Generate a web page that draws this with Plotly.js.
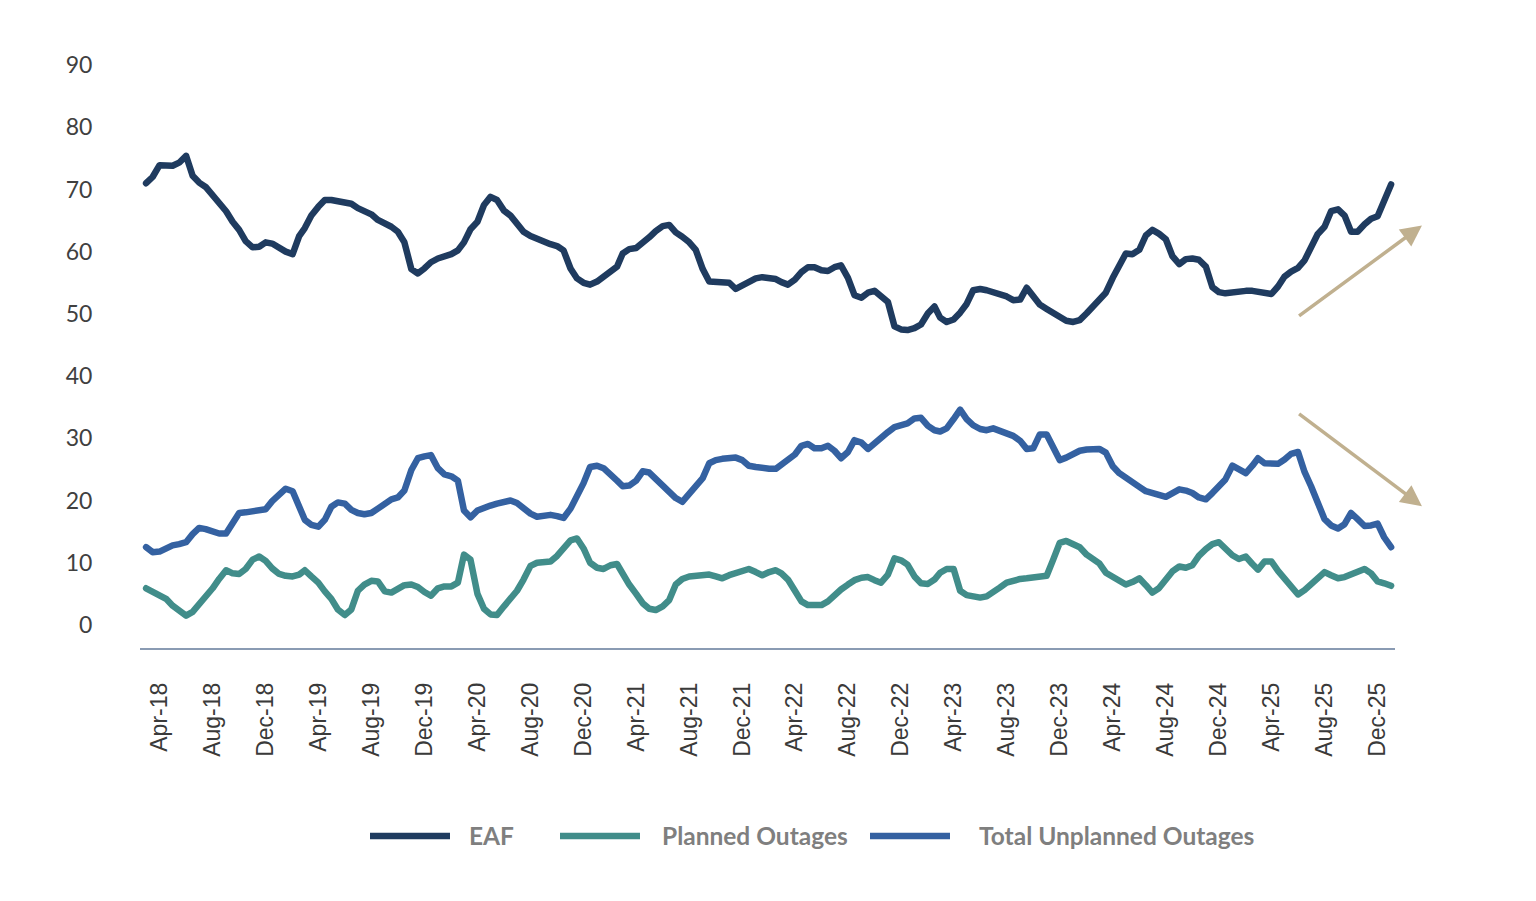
<!DOCTYPE html>
<html>
<head>
<meta charset="utf-8">
<script src="https://cdn.plot.ly/plotly-3.0.1.min.js"></script>
<style>
  html, body { margin: 0; padding: 0; background: #ffffff; }
  #chart { width: 1536px; height: 901px; }
  .scatterlayer path.js-line { stroke-linejoin: round; stroke-linecap: round; }
</style>
</head>
<body>
<div id="chart"></div>
<script>
// Half-monthly observations, first point 1 Mar 2018, last point 1 Jan 2026
const startYear = 2018;
const startMonth = 3;

const eaf = [
  71.0, 72.0, 73.9, 73.8, 73.8, 74.3, 75.4, 72.2, 71.1, 70.4,
  69.2, 67.8, 66.5, 64.8, 63.5, 61.7, 60.7, 60.8, 61.5, 61.3,
  60.6, 60.0, 59.6, 62.5, 63.8, 65.8, 67.2, 68.3, 68.3, 68.1,
  68.0, 67.7, 67.0, 66.5, 66.0, 65.1, 64.6, 64.0, 63.2, 61.5,
  57.2, 56.5, 57.3, 58.3, 58.9, 59.2, 59.6, 60.2, 61.5, 63.6,
  64.8, 67.5, 68.8, 68.3, 66.6, 65.8, 64.5, 63.2, 62.5, 62.0,
  61.6, 61.2, 60.9, 60.2, 57.3, 55.7, 55.0, 54.7, 55.2, 55.9,
  56.7, 57.6, 59.7, 60.4, 60.6, 61.3, 62.3, 63.3, 64.1, 64.3,
  63.1, 62.4, 61.5, 60.3, 57.2, 55.2, 55.1, 55.2, 55.0, 54.0,
  54.5, 55.1, 55.7, 55.9, 55.8, 55.6, 55.1, 54.7, 55.5, 56.7,
  57.5, 57.5, 57.0, 56.9, 57.5, 57.8, 55.8, 53.0, 52.6, 53.4,
  53.7, 52.9, 51.9, 48.0, 47.5, 47.4, 47.7, 48.3, 50.1, 51.2,
  49.4, 48.7, 49.1, 50.2, 51.6, 53.8, 54.0, 53.8, 53.5, 53.2,
  52.8, 52.2, 52.3, 54.2, 52.7, 51.5, 50.8, 50.2, 49.6, 48.9,
  48.7, 49.0, 50.1, 51.3, 52.4, 53.4, 55.8, 57.9, 59.7, 59.6,
  60.3, 62.6, 63.5, 62.9, 62.0, 59.3, 58.0, 58.8, 58.9, 58.7,
  57.6, 54.3, 53.5, 53.3, 53.5, 53.6, 53.7, 53.7, 53.6, 53.4,
  53.2, 54.4, 56.0, 56.8, 57.4, 58.6, 61.0, 62.8, 64.0, 66.5,
  66.8, 65.8, 63.2, 63.2, 64.4, 65.3, 65.7, 68.2, 70.8
];

const plannedOutages = [
  5.9, 5.3, 4.8, 4.2, 3.1, 2.2, 1.5, 2.1, 3.3, 4.8,
  5.9, 7.4, 8.8, 8.3, 8.2, 9.0, 10.5, 11.0, 10.3, 9.1,
  8.2, 7.9, 7.8, 8.1, 8.8, 7.8, 6.8, 5.4, 4.2, 2.5,
  1.6, 2.5, 5.5, 6.5, 7.1, 7.0, 5.4, 5.2, 5.9, 6.4,
  6.5, 6.1, 5.3, 4.7, 5.9, 6.2, 6.2, 6.8, 11.3, 10.5,
  5.0, 2.6, 1.7, 1.6, 3.0, 4.1, 5.5, 7.3, 9.5, 10.0,
  10.2, 10.2, 11.1, 12.4, 13.6, 13.9, 12.3, 10.0, 9.2, 9.0,
  9.6, 9.8, 8.2, 6.5, 5.0, 3.5, 2.6, 2.4, 3.0, 4.0,
  6.5, 7.4, 7.8, 7.9, 8.0, 8.1, 7.8, 7.5, 8.0, 8.4,
  8.7, 9.0, 8.5, 8.0, 8.5, 8.8, 8.3, 7.3, 5.5, 3.8,
  3.2, 3.2, 3.2, 3.8, 4.8, 5.7, 6.5, 7.2, 7.6, 7.7,
  7.2, 6.8, 8.1, 10.7, 10.4, 9.7, 7.8, 6.7, 6.6, 7.3,
  8.4, 9.0, 9.0, 5.5, 4.8, 4.6, 4.4, 4.6, 5.2, 6.0,
  6.8, 7.2, 7.4, 7.5, 7.6, 7.6, 7.9, 10.5, 13.2, 13.5,
  13.1, 12.5, 11.3, 10.6, 9.9, 8.4, 7.7, 7.1, 6.5, 6.9,
  7.5, 6.4, 5.2, 5.9, 7.1, 8.6, 9.4, 9.2, 9.6, 11.1,
  12.2, 13.0, 13.3, 12.3, 11.2, 10.6, 11.0, 9.8, 8.9, 10.2,
  10.2, 8.7, 7.5, 6.3, 4.9, 5.6, 6.5, 7.5, 8.5, 8.0,
  7.5, 7.7, 8.1, 8.4, 9.0, 8.3, 7.0, 6.7, 6.3
];

const unplannedOutages = [
  12.5, 11.7, 11.8, 12.4, 12.8, 13.0, 13.3, 14.6, 15.6, 15.4,
  15.0, 14.7, 14.7, 16.2, 18.0, 18.1, 18.2, 18.3, 18.6, 19.9,
  21.1, 21.9, 21.5, 18.9, 16.9, 16.1, 15.8, 16.9, 19.0, 19.7,
  19.5, 18.5, 18.0, 17.8, 18.0, 18.7, 19.5, 20.2, 20.5, 21.6,
  24.9, 26.8, 27.1, 27.3, 25.2, 24.2, 23.9, 23.2, 18.4, 17.3,
  18.4, 18.9, 19.2, 19.5, 19.9, 20.0, 19.6, 18.7, 17.9, 17.4,
  17.5, 17.7, 17.5, 17.2, 18.7, 20.5, 22.8, 25.4, 25.6, 25.2,
  24.3, 23.2, 22.3, 22.4, 23.2, 24.7, 24.5, 23.5, 22.2, 21.2,
  20.4, 19.8, 21.2, 22.4, 23.6, 26.0, 26.5, 26.7, 26.8, 26.9,
  26.5, 25.6, 25.4, 25.2, 25.1, 25.1, 25.8, 26.7, 27.4, 28.8,
  29.1, 28.4, 28.4, 28.8, 28.0, 26.8, 27.8, 29.7, 29.3, 28.3,
  29.2, 30.3, 31.0, 31.8, 32.1, 32.4, 33.2, 33.3, 32.0, 31.3,
  31.1, 31.6, 33.1, 34.6, 33.1, 32.1, 31.5, 31.3, 31.6, 31.2,
  30.7, 30.4, 29.6, 28.3, 28.4, 30.6, 30.6, 28.4, 26.5, 26.9,
  27.6, 28.0, 28.2, 28.3, 28.3, 27.7, 25.5, 24.4, 23.6, 22.8,
  22.2, 21.5, 21.1, 20.9, 20.6, 21.1, 21.8, 21.6, 21.2, 20.5,
  20.2, 21.2, 22.2, 23.4, 25.6, 25.0, 24.4, 25.6, 26.8, 26.0,
  25.9, 25.9, 26.6, 27.5, 27.8, 24.6, 22.3, 19.4, 17.0, 16.0,
  15.5, 16.2, 18.0, 17.0, 15.9, 16.0, 16.3, 14.1, 12.5
];

const seriesNames = ['EAF', 'Planned Outages', 'Total Unplanned Outages'];
const seriesColors = ['#1f3b5f', '#418d8a', '#3461a1'];
const yTickValues = [0, 10, 20, 30, 40, 50, 60, 70, 80, 90];

// trend arrows: [tail date, tail value, head date, head value]
const upArrow = ['2025-05-31', 49.5, '2026-03-13', 64.2];
const downArrow = ['2025-05-31', 34.1, '2026-03-13', 19.1];

function buildDates(n) {
  const out = [];
  for (let k = 0; k < n; k++) {
    const mIdx = (startMonth - 1) + Math.floor(k / 2);
    const y = startYear + Math.floor(mIdx / 12);
    const m = (mIdx % 12) + 1;
    out.push(y + '-' + String(m).padStart(2, '0') + '-' + (k % 2 ? '16' : '01'));
  }
  return out;
}
const dates = buildDates(eaf.length);

const values = [eaf, plannedOutages, unplannedOutages];
const traces = values.map((v, i) => ({
  type: 'scatter',
  mode: 'lines',
  x: dates,
  y: v,
  name: seriesNames[i],
  line: { color: seriesColors[i], width: 6.5 },
  hoverinfo: 'x+y+name',
  showlegend: false
}));

// plot area in pixels
const W = 1536, H = 901;
const L = 140, R = 1395, T = 52, B = 648;
const px = x => (x - L) / (R - L);
const py = y => (B - y) / (B - T);

const legendY = 836;
const legendItems = [
  { x0: 370, x1: 450, tx: 467 },
  { x0: 560, x1: 640, tx: 660 },
  { x0: 870, x1: 950, tx: 977 }
];

const shapes = legendItems.map((it, i) => ({
  type: 'line', xref: 'paper', yref: 'paper',
  x0: px(it.x0), x1: px(it.x1), y0: py(legendY), y1: py(legendY),
  line: { color: seriesColors[i], width: 6.5 }
}));

const annotations = legendItems.map((it, i) => ({
  xref: 'paper', yref: 'paper', x: px(it.tx), y: py(legendY),
  xanchor: 'left', yanchor: 'middle', showarrow: false,
  text: seriesNames[i],
  font: { family: 'Lato, sans-serif', size: 24.5, color: '#7f7f7f', weight: 'bold' }
}));

const arrowColor = '#c0b08f';
[upArrow, downArrow].forEach(a => {
  annotations.push({
    xref: 'x', yref: 'y', axref: 'x', ayref: 'y',
    x: a[2], y: a[3], ax: a[0], ay: a[1],
    showarrow: true, arrowhead: 2, arrowsize: 1.2, arrowwidth: 3.5,
    arrowcolor: arrowColor, text: ''
  });
});

const layout = {
  width: W, height: H,
  margin: { l: L, r: W - R, t: T, b: H - B, pad: 0 },
  paper_bgcolor: '#ffffff',
  plot_bgcolor: '#ffffff',
  showlegend: false,
  xaxis: {
    type: 'date',
    range: ['2018-02-15', '2026-01-10'],
    tick0: '2018-04-01',
    dtick: 'M4',
    tickformat: '%b-%y',
    tickangle: -90,
    showgrid: false,
    zeroline: false,
    showline: true,
    linecolor: '#8a9bb3',
    linewidth: 1.5,
    ticks: 'outside',
    ticklen: 24,
    tickcolor: 'rgba(0,0,0,0)',
    tickfont: { family: '"Liberation Sans", Arial, sans-serif', size: 23, color: '#3a3a3a' }
  },
  yaxis: {
    range: [-3.7, 92.09],
    tickvals: yTickValues,
    showgrid: false,
    zeroline: false,
    showline: false,
    ticks: 'outside',
    ticklen: 42,
    tickcolor: 'rgba(0,0,0,0)',
    tickfont: { family: 'Lato, sans-serif', size: 23, color: '#404040' }
  },
  shapes: shapes,
  annotations: annotations
};

Plotly.newPlot('chart', traces, layout, { displayModeBar: false, staticPlot: true });
</script>
</body>
</html>
